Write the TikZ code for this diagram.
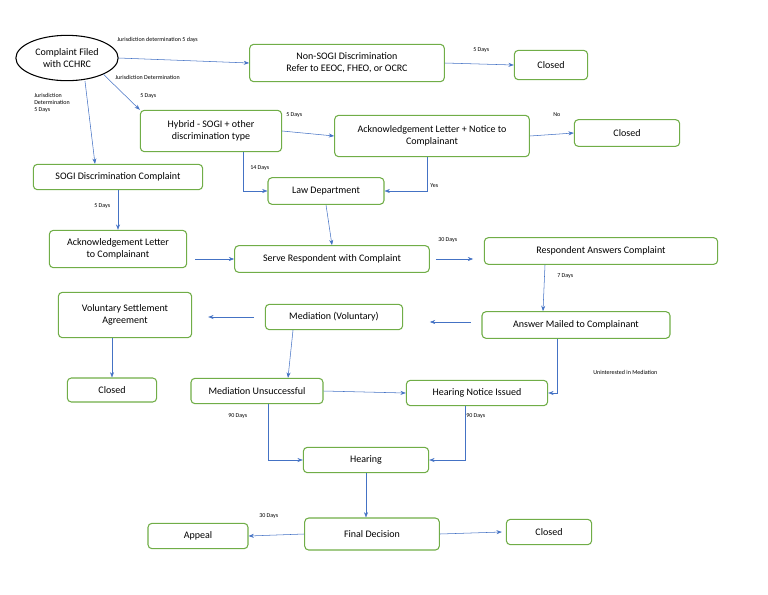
\documentclass[tikz,border=0pt]{standalone}
\usepackage{fontspec}
\setmainfont{Carlito}
\usetikzlibrary{shapes.geometric,arrows.meta}
\definecolor{boxgreen}{HTML}{70AD47}
\definecolor{arrblue}{HTML}{4472C4}
\begin{document}
\begin{tikzpicture}[x=0.75pt,y=-0.75pt,
  box/.style={draw=boxgreen,thick,rounded corners=3pt,align=center,font=\fontsize{7.5}{9}\selectfont,inner sep=1pt},
  arr/.style={draw=arrblue,-{Stealth[length=4pt]}},
  lbl/.style={font=\fontsize{4.5}{5.5}\selectfont,align=left,inner sep=0pt}]
\useasboundingbox (0,0) rectangle (768,594);
\node[ellipse,draw,thick,minimum width=75pt,minimum height=34pt,align=center,font=\fontsize{7.5}{9}\selectfont] (start) at (67,58) {Complaint Filed\\with CCHRC};
\node[box,minimum width=146pt,minimum height=28pt] (nonsogi) at (347,63) {Non-SOGI Discrimination\\Refer to EEOC, FHEO, or OCRC};
\node[box,minimum width=55pt,minimum height=22pt] (closeda) at (551,65) {Closed};
\node[box,minimum width=106pt,minimum height=31pt] (hybrid) at (211,131) {Hybrid - SOGI + other\\discrimination type};
\node[box,minimum width=146pt,minimum height=31pt] (acknotice) at (432,136) {Acknowledgement Letter + Notice to\\Complainant};
\node[box,minimum width=79pt,minimum height=20pt] (closedb) at (627,133) {Closed};
\node[box,minimum width=127pt,minimum height=19pt] (sogi) at (118,177) {SOGI Discrimination Complaint};
\node[box,minimum width=87pt,minimum height=20pt] (law) at (326,191) {Law Department};
\node[box,minimum width=103pt,minimum height=28pt] (ack) at (118,249) {Acknowledgement Letter\\to Complainant};
\node[box,minimum width=146pt,minimum height=20pt] (serve) at (332,259) {Serve Respondent with Complaint};
\node[box,minimum width=175pt,minimum height=20pt] (answers) at (601,251) {Respondent Answers Complaint};
\node[box,minimum width=141pt,minimum height=20pt] (mailed) at (576,325) {Answer Mailed to Complainant};
\node[box,minimum width=103pt,minimum height=19pt] (mediation) at (334,317) {Mediation (Voluntary)};
\node[box,minimum width=100pt,minimum height=34pt] (settle) at (125,315) {Voluntary Settlement\\Agreement};
\node[box,minimum width=67pt,minimum height=18pt] (closedc) at (112,390) {Closed};
\node[box,minimum width=99pt,minimum height=19pt] (unsucc) at (257,391) {Mediation Unsuccessful};
\node[box,minimum width=106pt,minimum height=19pt] (notice) at (477,393) {Hearing Notice Issued};
\node[box,minimum width=94pt,minimum height=19pt] (hearing) at (366,460) {Hearing};
\node[box,minimum width=101pt,minimum height=24pt] (final) at (372,534) {Final Decision};
\node[box,minimum width=75pt,minimum height=19pt] (appeal) at (198,536) {Appeal};
\node[box,minimum width=64pt,minimum height=19pt] (closedd) at (549,532) {Closed};
% connectors
\draw[arr] (start.east) -- (nonsogi.west);
\node[lbl,anchor=west] (l1) at (117,40) {Jurisdiction determination 5 days};
\draw[arr] (start.south east) -- (hybrid.north west);
\node[lbl,anchor=west] (l2) at (115,77) {Jurisdiction Determination};
\node[lbl,anchor=west] (l3) at (140,96) {5 Days};
\draw[arr] (start.south) ++(18,0) coordinate (s1) (s1) -- (sogi.north -| 95,0) coordinate (s2);
\node[lbl,anchor=west] (l4) at (34,103) {Jurisdiction\\Determination\\5 Days};
\draw[arr] (nonsogi.east) -- (closeda.west);
\node[lbl,anchor=west] (l5) at (473,50) {5 Days};
\draw[arr] (hybrid.east) -- (acknotice.west);
\node[lbl,anchor=west] (l6) at (286,115) {5 Days};
\draw[arr] (acknotice.east) -- (closedb.west);
\node[lbl,anchor=west] (l7) at (553,115) {No};
\draw[arr] (acknotice.south -| 427,0) |- (law.east);
\node[lbl,anchor=west] (l8) at (430,186) {Yes};
\draw[arr] (hybrid.south -| 243,0) |- (law.west);
\node[lbl,anchor=west] (l9) at (250,168) {14 Days};
\draw[arr] (sogi.south) -- (ack.north);
\node[lbl,anchor=west] (l10) at (94,206) {5 Days};
\draw[arr] (ack.east |- 0,259) ++(8,0) coordinate (a1) (a1) -- (serve.west);
\draw[arr] (law.south) -- (serve.north);
\draw[arr] (serve.east) ++(6,0) coordinate (s3) (s3) -- ([xshift=-8pt]answers.west |- serve.east);
\node[lbl,anchor=west] (l11) at (438,240) {30 Days};
\draw[arr] (answers.south -| 545,0) -- (mailed.north -| 543,0);
\node[lbl,anchor=west] (l12) at (557,276) {7 Days};
\draw[arr] ([xshift=-8pt]mailed.west |- 0,322) -- ([xshift=20pt]mediation.east |- 0,322);
\draw[arr] ([xshift=-8pt]mediation.west) -- ([xshift=12pt]settle.east |- mediation.west);
\draw[arr] (settle.south -| 112,0) -- (closedc.north);
\draw[arr] (mediation.south -| 293,0) -- (unsucc.north -| 288,0);
\draw[arr] (unsucc.east) -- (notice.west);
\draw[arr] (mailed.south -| 557,0) |- (notice.east);
\node[lbl,anchor=west] (l13) at (593,372) {Uninterested in Mediation};
\draw[arr] (unsucc.south -| 268,0) |- (hearing.west);
\node[lbl,anchor=west] (l14) at (228,416) {90 Days};
\draw[arr] (notice.south -| 465,0) |- (hearing.east);
\node[lbl,anchor=west] (l15) at (466,416) {90 Days};
\draw[arr] (hearing.south) -- (final.north -| 366,0);
\draw[arr] (final.west) -- (appeal.east);
\node[lbl,anchor=west] (l16) at (259,516) {30 Days};
\draw[arr] (final.east) -- ([xshift=-3pt]closedd.west);
\end{tikzpicture}
\end{document}
